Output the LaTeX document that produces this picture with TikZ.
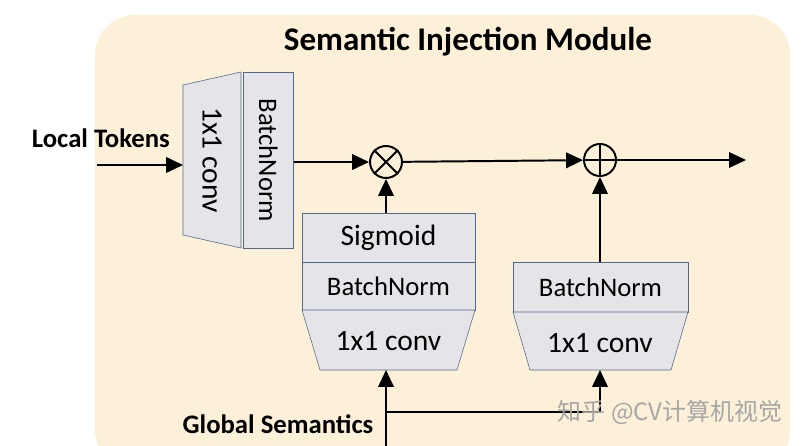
\documentclass[tikz,border=0pt]{standalone}
\usepackage{fontspec}
\setmainfont{Carlito}
\newfontfamily\cjk{Noto Sans CJK SC}
\usetikzlibrary{arrows.meta, positioning}
\definecolor{bgCream}{HTML}{FCF1D8}
\definecolor{blkFill}{HTML}{E5E5E9}
\definecolor{blkDraw}{HTML}{52688A}
\newlength{\unit}
\setlength{\unit}{0.025cm}
\tikzstyle{fBlock} = [rectangle, draw=blkDraw, fill=blkFill, inner sep=0pt, font=\fontsize{21}{21}\selectfont]
\tikzstyle{fTrap} = [draw=blkDraw, fill=blkFill]
\tikzstyle{fOp} = [circle, draw=black, line width=1.4pt, minimum size=32\unit, inner sep=0pt]
\tikzstyle{fArrow} = [line width=1.4pt, -{Triangle[length=12pt,width=11pt]}]
\tikzstyle{fLabel} = [font=\bfseries\fontsize{19}{19}\selectfont]
\begin{document}
\begin{tikzpicture}[x=0.025cm, y=-0.025cm]
    \useasboundingbox (0,0) rectangle (803,446);
    \fill[bgCream, rounded corners=40\unit] (95,15) rectangle (790,470);
    \node (title) [fLabel, font=\bfseries\fontsize{23.5}{23.5}\selectfont] at (468,42) {Semantic Injection Module};

    % input branch
    \filldraw[fTrap] (183,85) -- (241,72) -- (241,248) -- (183,235) -- cycle;
    \node (inConv) [rotate=-90, font=\fontsize{21}{21}\selectfont] at (212,160) {1x1 conv};
    \node (inBN) [fBlock, minimum width=50\unit, minimum height=176\unit, anchor=north west] at (243,72) {};
    \node [rotate=-90, font=\fontsize{19}{19}\selectfont] at (inBN) {BatchNorm};
    \node (tokens) [fLabel, anchor=south west] at (27,153) {Local Tokens};
    \coordinate (inStart) at (97,165);
    \coordinate (inConvL) at (183,165);

    % operators
    \node (mul) [fOp] at (386,162) {};
    \draw[line width=1.4pt] (mul.north west) -- (mul.south east) (mul.north east) -- (mul.south west);
    \node (add) [fOp] at (600,160) {};
    \draw[line width=1.4pt] (add.north) -- (add.south) (add.west) -- (add.east);
    \coordinate (outEnd) at (746,160);

    % left column
    \node (sig) [fBlock, minimum width=173\unit, minimum height=49\unit] at (388.5,237.5) {Sigmoid};
    \node (bnL) [fBlock, minimum width=173\unit, minimum height=48\unit, below=0pt of sig, font=\fontsize{19}{19}\selectfont] {BatchNorm};
    \filldraw[fTrap] (302,310) -- (475,310) -- (457,370) -- (320,370) -- cycle;
    \node (convL) [font=\fontsize{21}{21}\selectfont] at (388.5,341) {1x1 conv};

    % right column
    \node (bnR) [fBlock, minimum width=175\unit, minimum height=50\unit, font=\fontsize{19}{19}\selectfont] at (600.5,287) {BatchNorm};
    \filldraw[fTrap] (513,312) -- (688,312) -- (671,370) -- (530,370) -- cycle;
    \node (convR) [font=\fontsize{21}{21}\selectfont] at (600,343) {1x1 conv};

    % global branch
    \node (global) [fLabel] at (278,424) {Global Semantics};
    \coordinate (gStart) at (386,446);
    \coordinate (gSplit) at (386,412);
    \coordinate (gRight) at (600,412);
    \coordinate (convLB) at (386,370);
    \coordinate (convRB) at (600,370);

    \draw [fArrow] (inStart) -- (inConvL);
    \draw [fArrow] (inBN.east |- mul) -- (mul);
    \draw [fArrow] (mul) -- (add);
    \draw [fArrow] (add) -- (outEnd);
    \draw [fArrow] (sig.north -| mul) -- (mul);
    \draw [fArrow] (bnR.north -| add) -- (add);
    \draw [fArrow] (gStart) -- (convLB);
    \draw [fArrow] (gSplit) -- (gRight) -- (convRB);

    \node (mark) [text=gray!70, font=\cjk\fontsize{17}{17}\selectfont] at (670,412) {知乎 @CV计算机视觉};
\end{tikzpicture}
\end{document}
